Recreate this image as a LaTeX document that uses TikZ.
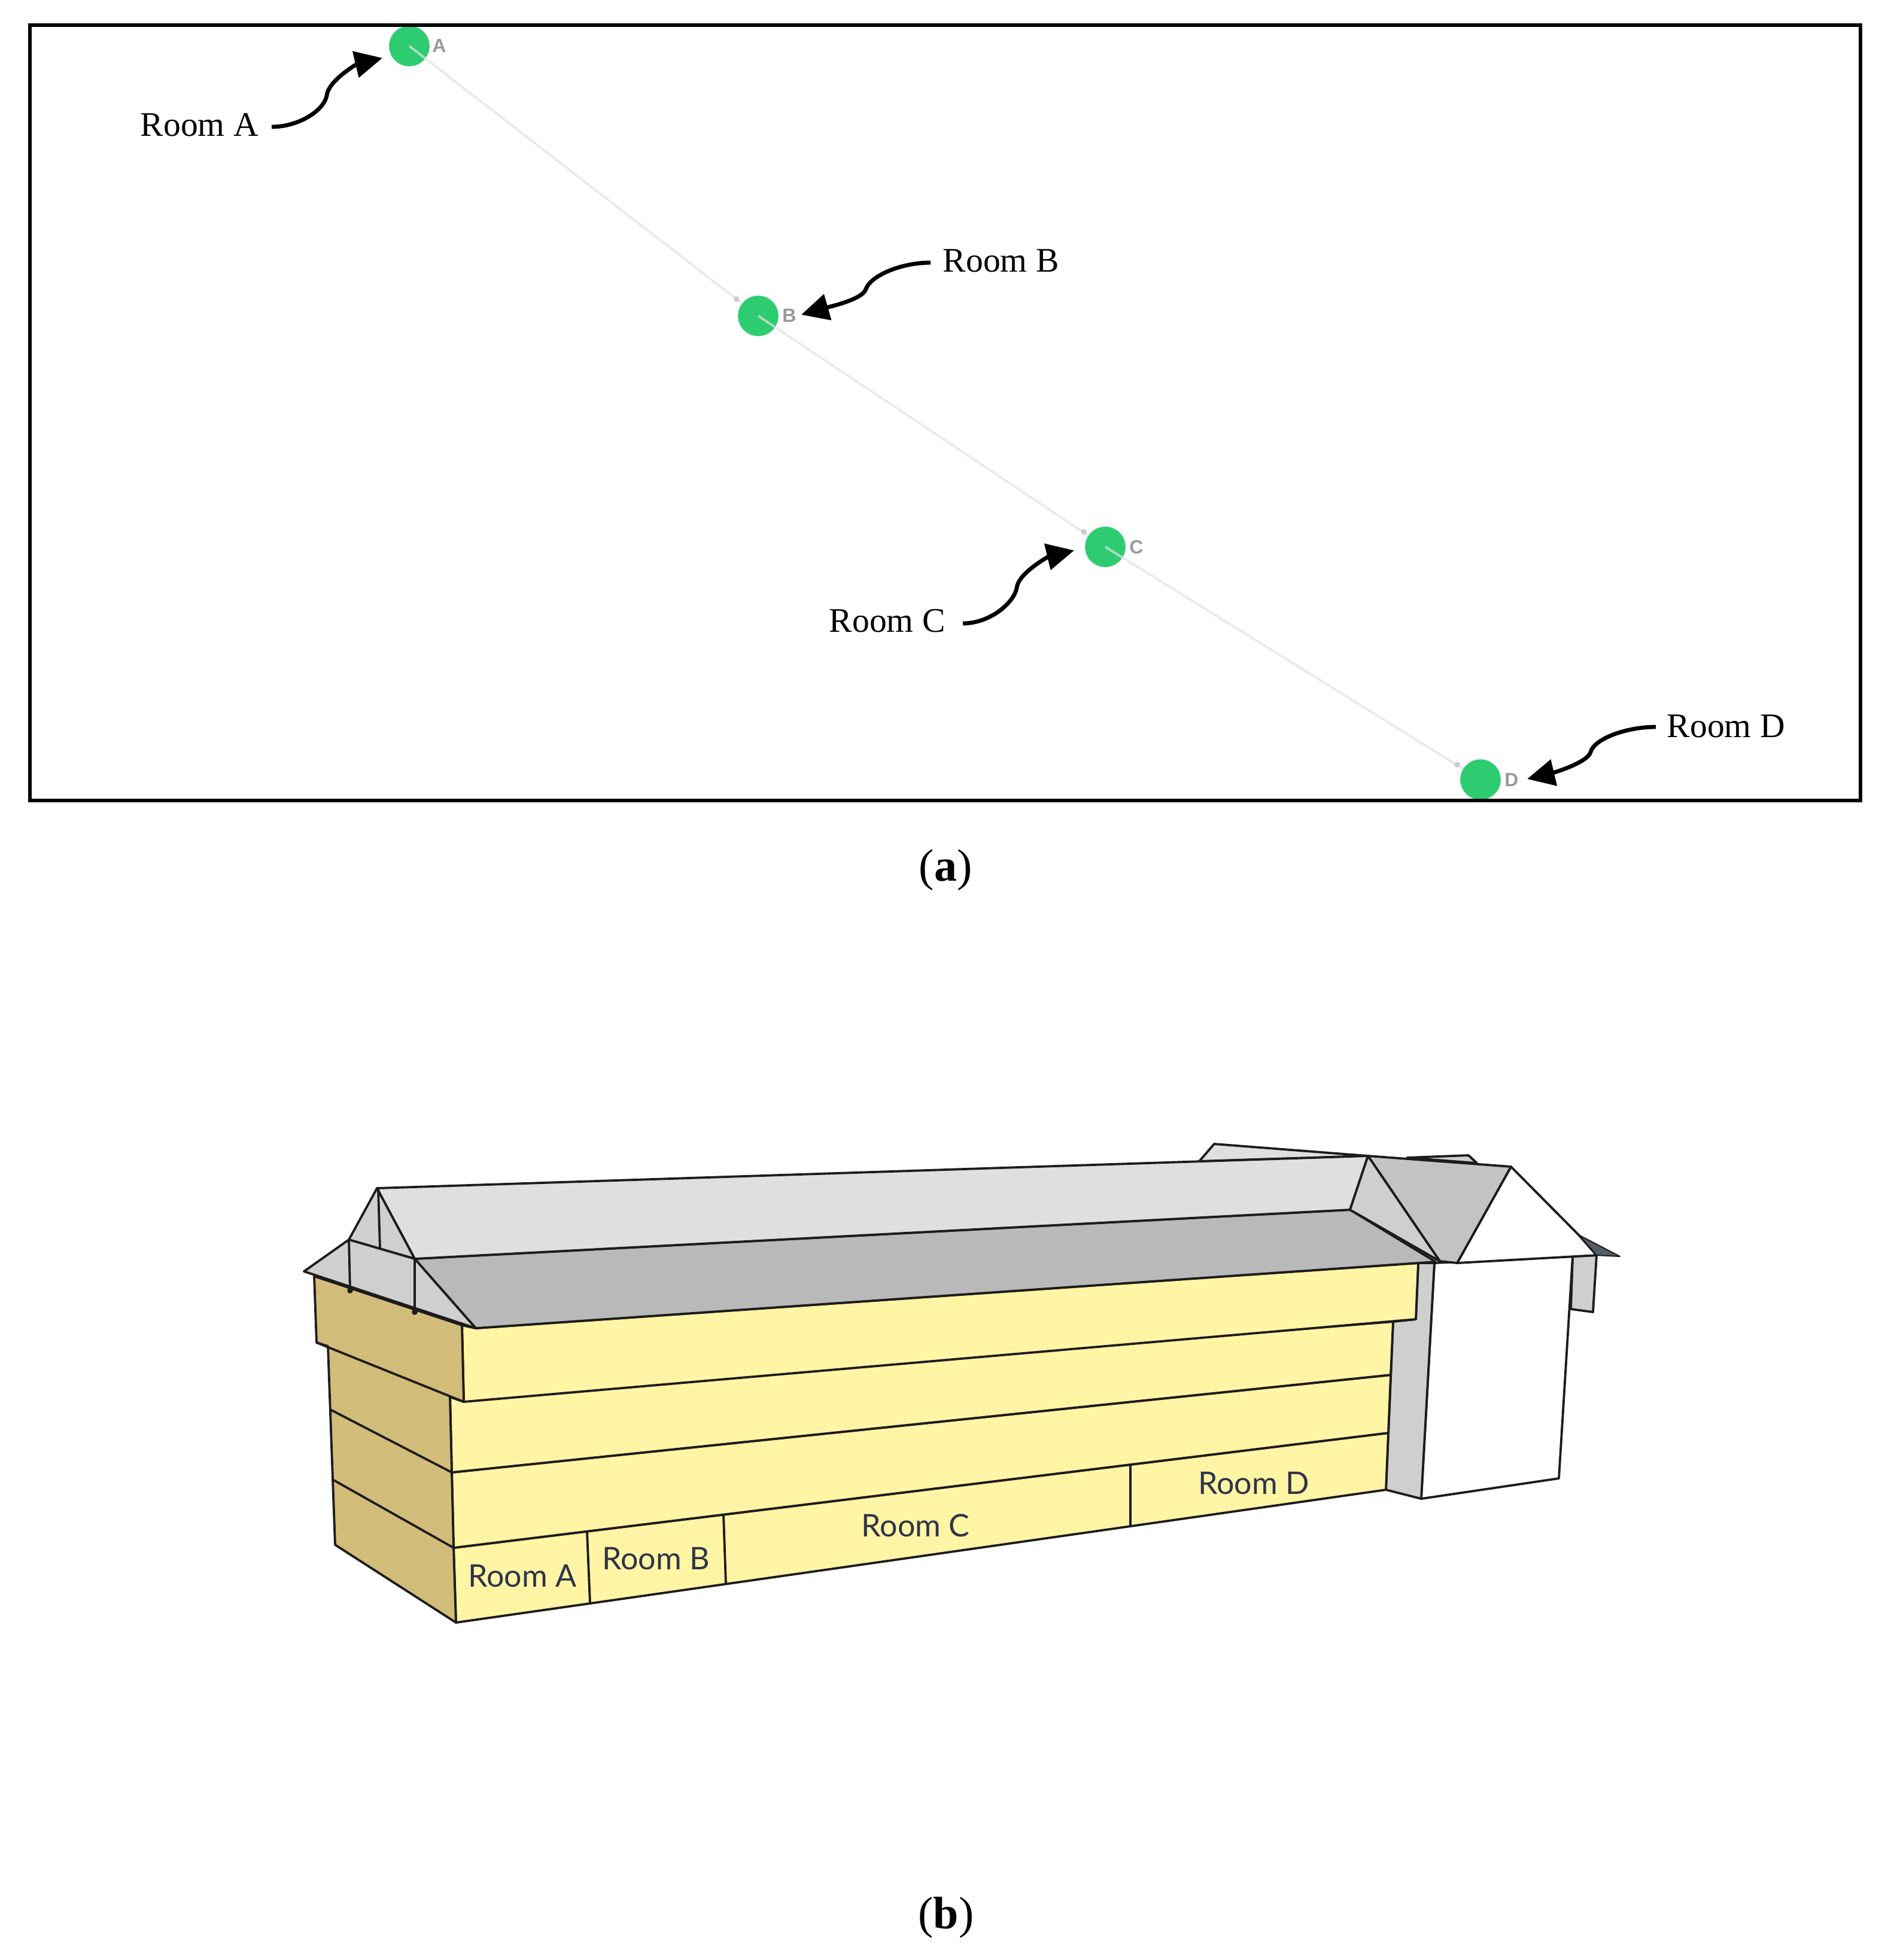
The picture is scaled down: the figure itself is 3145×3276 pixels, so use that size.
\documentclass[tikz,border=0pt]{standalone}
\usepackage{fontspec}
\setmainfont{Liberation Serif}
\newfontfamily\roomfont{Lato}
\newfontfamily\smallfont{Liberation Sans}
\usetikzlibrary{arrows.meta}
\definecolor{ink}{HTML}{1C1C1C}
\definecolor{tanw}{HTML}{D2BC79}
\definecolor{yelw}{HTML}{FFF5A5}
\definecolor{roofl}{HTML}{DFDFDF}
\definecolor{roofd}{HTML}{B9B9B9}
\definecolor{roofm}{HTML}{CFCFCF}
\definecolor{roofr}{HTML}{C3C3C3}
\definecolor{greenn}{HTML}{2ECC71}
\definecolor{roomtxt}{HTML}{2F3548}
\definecolor{linkc}{HTML}{E2E2E2}
\definecolor{sliver}{HTML}{555C64}
\tikzset{
  edge/.style={draw=ink,line width=0.95pt,line join=round},
  vertexn/.style={circle,fill=greenn,draw=none,minimum size=16.9pt,inner sep=0pt},
  tiny/.style={font=\smallfont\fontsize{8}{9}\selectfont\bfseries,text=black!40,inner sep=0pt},
  link/.style={draw=linkc,opacity=.7,line width=1pt},
  callout/.style={font=\fontsize{14.4}{16}\selectfont,inner sep=0pt,anchor=base west},
  pointer/.style={draw=black,line width=1.7pt,-{Triangle[length=11.5pt,width=11pt]}},
  roomlab/.style={font=\roomfont\fontsize{13}{15}\selectfont,text=roomtxt,inner sep=0pt,anchor=base},
  capt/.style={font=\fontsize{19}{21}\selectfont,inner sep=0pt,anchor=center}
}
\begin{document}
\begin{tikzpicture}[x=0.25pt,y=-0.25pt]
\useasboundingbox (0,0) rectangle (3145,3276);
% ---------- panel a
\node[vertexn] (A) at (684,77) {};
\node[vertexn] (B) at (1267,528) {};
\node[vertexn] (C) at (1847,914) {};
\node[vertexn] (D) at (2474,1303) {};
\draw[link] (A.center) -- (B);
\draw[link] (B.center) -- (C);
\draw[link] (C.center) -- (D);
\node[tiny] (la) at (734,76) {A};
\node[tiny] (lb) at (1319,527) {B};
\node[tiny] (lc) at (1899,914) {C};
\node[tiny] (ld) at (2526,1303) {D};
\fill[black!20] (1231,500) circle (1.2pt) (1811,889) circle (1.2pt) (2435,1278) circle (1.2pt);
\draw[line width=1.4pt,black] (50,42) rectangle (3109,1338);
\node[callout] (ra) at (234,227) {Room A};
\node[callout] (rb) at (1575,454) {Room B};
\node[callout] (rc) at (1385,1056) {Room C};
\node[callout] (rd) at (2785,1232) {Room D};
\coordinate (ta) at (454,212);
\coordinate (ha) at (639,97);
\coordinate (tb) at (1555,439);
\coordinate (hb) at (1339,526);
\coordinate (tc) at (1609,1042);
\coordinate (hc) at (1795,920);
\coordinate (td) at (2767,1215);
\coordinate (hd) at (2552,1302);
\draw[pointer] (ta) .. controls +(45,0) and +(-5,25) .. (546,160) .. controls +(2,-25) and +(-42,10) .. (ha);
\draw[pointer] (tb) .. controls +(-50,0) and +(8,-22) .. (1447,483) .. controls +(-5,18) and +(42,-12) .. (hb);
\draw[pointer] (tc) .. controls +(45,0) and +(-5,25) .. (1699,983) .. controls +(2,-25) and +(-42,10) .. (hc);
\draw[pointer] (td) .. controls +(-50,0) and +(6,-22) .. (2658,1257) .. controls +(-5,18) and +(42,-10) .. (hd);
\node[capt] (capa) at (1580,1454) {(\textbf{a})};
% ---------- panel b: back roof pieces
\filldraw[edge,fill=roofm] (2351,1935) -- (2454,1931) -- (2468,1944) -- cycle;
\filldraw[edge,fill=roofl] (2004,1941) -- (2029,1912) -- (2286,1932) -- cycle;
% right white block and side
\filldraw[edge,fill=roofm] (2628,2100) -- (2668,2098) -- (2662,2193) -- (2625,2188) -- cycle;
\filldraw[edge,fill=white] (2397,2111) -- (2628,2100) -- (2605,2471) -- (2375,2505) -- cycle;
\filldraw[edge,fill=roofm] (2370,2111) -- (2397,2111) -- (2375,2505) -- (2316,2490) -- (2328,2209) -- (2366,2205) -- cycle;
% white gable
\filldraw[edge,fill=white] (2525,1950) -- (2638,2064) -- (2668,2098) -- (2435,2111) -- cycle;
% dark sliver
\filldraw[edge,fill=sliver,line width=.5pt] (2638,2064) -- (2707,2100) -- (2668,2098) -- cycle;
% right slanted roof
\filldraw[edge,fill=roofr] (2286,1932) -- (2525,1950) -- (2435,2111) -- (2406,2108) -- cycle;
% yellow wall
\filldraw[edge,fill=yelw] (758,2587) -- (2320,2395) -- (2316,2490) -- (762,2712) -- cycle;
\filldraw[edge,fill=yelw] (755,2461) -- (2324,2298) -- (2320,2395) -- (758,2587) -- cycle;
\filldraw[edge,fill=yelw] (752,2335) -- (2328,2209) -- (2324,2298) -- (755,2461) -- cycle;
\filldraw[edge,fill=yelw] (772,2215) -- (795,2220) -- (2370,2111) -- (2366,2205) -- (775,2343) -- cycle;
\draw[edge] (981,2560) -- (986,2680);
\draw[edge] (1209,2532) -- (1213,2647);
\draw[edge] (1889,2448) -- (1889,2551);
% tan wall
\filldraw[edge,fill=tanw] (525,2133) -- (529,2244) -- (548,2250) -- (556,2473) -- (560,2582) -- (762,2712) -- (758,2587) -- (755,2461) -- (752,2335) -- (775,2343) -- (772,2215) -- cycle;
\draw[edge] (529,2244) -- (775,2343);
\draw[edge] (552,2356) -- (755,2461);
\draw[edge] (556,2473) -- (758,2587);
% roofs
\filldraw[edge,fill=roofd] (693,2104) -- (2256,2022) -- (2399,2109) -- (795,2220) -- cycle;
\filldraw[edge,fill=roofl] (630,1986) -- (2286,1932) -- (2256,2022) -- (693,2104) -- cycle;
\filldraw[edge,fill=roofm] (2286,1932) -- (2406,2108) -- (2256,2022) -- cycle;
\filldraw[edge,fill=roofm] (630,1986) -- (693,2104) -- (583,2072) -- cycle;
\filldraw[edge,fill=roofm] (583,2072) -- (693,2104) -- (795,2220) -- (508,2125) -- cycle;
\draw[edge] (632,1987) -- (635,2087);
\draw[edge] (583,2072) -- (585,2157);
\draw[edge] (693,2104) -- (693,2193);
\fill[ink] (585,2157) circle (1.2pt) (693,2193) circle (1.2pt);
% room labels
\node[roomlab] (r1) at (873,2652) {Room A};
\node[roomlab] (r2) at (1096,2623) {Room B};
\node[roomlab] (r3) at (1530,2568) {Room C};
\node[roomlab] (r4) at (2095,2497) {Room D};
\node[capt] (capb) at (1581,3205) {(\textbf{b})};
\end{tikzpicture}
\end{document}
